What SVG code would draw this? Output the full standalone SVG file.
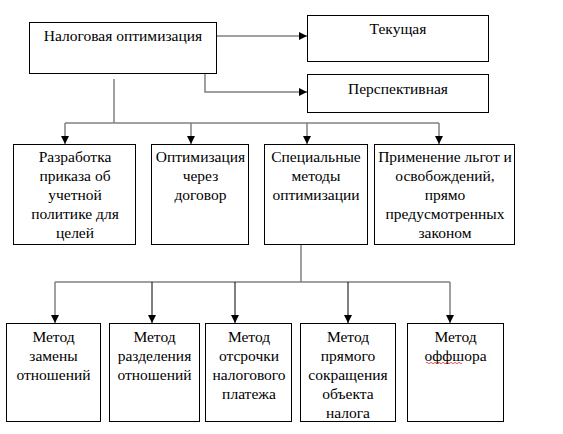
<svg xmlns="http://www.w3.org/2000/svg" width="563" height="434" viewBox="0 0 563 434">
<defs>
<marker id="ah" viewBox="0 0 10 10" refX="10" refY="5" markerWidth="8" markerHeight="8" markerUnits="userSpaceOnUse" orient="auto">
<path d="M0,0 L10,5 L0,10 z" fill="#000"/>
</marker>
<style>
.box{fill:#fff;stroke:#000;stroke-width:1}
.g{fill:none;stroke:#808080;stroke-width:1.5}
.k{fill:none;stroke:#000;stroke-width:1}
text{font-family:'Liberation Serif',serif;font-size:15.5px;fill:#000;text-anchor:middle}
</style>
</defs>
<rect width="563" height="434" fill="#fff"/>
<g id="connectors">
<path class="g" d="M217,36 H307" marker-end="url(#ah)"/>
<path class="g" d="M205,74 V92 H307" marker-end="url(#ah)"/>
<path class="g" d="M114,79 V123"/>
<path class="g" d="M65,123 H439"/>
<path class="g" d="M65,123 V144" marker-end="url(#ah)"/>
<path class="g" d="M191,123 V144" marker-end="url(#ah)"/>
<path class="g" d="M307,123 V144" marker-end="url(#ah)"/>
<path class="g" d="M439,123 V144" marker-end="url(#ah)"/>
<path class="g" d="M301,244 V282"/>
<path class="g" d="M55,282 H450"/>
<path class="g" d="M55,282 V323" marker-end="url(#ah)"/>
<path class="k" d="M152,282 V323" marker-end="url(#ah)"/>
<path class="k" d="M235,282 V323" marker-end="url(#ah)"/>
<path class="k" d="M348,282 V323" marker-end="url(#ah)"/>
<path class="g" d="M450,282 V323" marker-end="url(#ah)"/>
</g>
<g id="n-main"><rect class="box" x="29.5" y="22.5" width="187" height="51"/><text font-family="Liberation Serif" x="123" y="41">Налоговая оптимизация</text></g>
<g id="n-cur"><rect class="box" x="307.5" y="15.5" width="181" height="46"/><text font-family="Liberation Serif" x="398" y="34">Текущая</text></g>
<g id="n-persp"><rect class="box" x="307.5" y="74.5" width="181" height="38"/><text font-family="Liberation Serif" x="398" y="94">Перспективная</text></g>
<g id="n-order"><rect class="box" x="13.5" y="144.5" width="122" height="100"/><text font-family="Liberation Serif" x="75" y="162">Разработка<tspan x="75" dy="19">приказа об</tspan><tspan x="75" dy="19">учетной</tspan><tspan x="75" dy="19">политике для</tspan><tspan x="75" dy="19">целей</tspan></text></g>
<g id="n-contract"><rect class="box" x="151.5" y="144.5" width="97" height="100"/><text font-family="Liberation Serif" x="200.5" y="162">Оптимизация<tspan x="200.5" dy="19">через</tspan><tspan x="200.5" dy="19">договор</tspan></text></g>
<g id="n-special"><rect class="box" x="264.5" y="144.5" width="103" height="100"/><text font-family="Liberation Serif" x="316" y="162">Специальные<tspan x="316" dy="19">методы</tspan><tspan x="316" dy="19">оптимизации</tspan></text></g>
<g id="n-benefits"><rect class="box" x="374.5" y="144.5" width="140" height="100"/><text font-family="Liberation Serif" x="445" y="162">Применение льгот и<tspan x="445" dy="19">освобождений,</tspan><tspan x="445" dy="19">прямо</tspan><tspan x="445" dy="19">предусмотренных</tspan><tspan x="445" dy="19">законом</tspan></text></g>
<g id="n-m1"><rect class="box" x="6.5" y="323.5" width="94" height="98"/><text font-family="Liberation Serif" x="53.5" y="341.5">Метод<tspan x="53.5" dy="19">замены</tspan><tspan x="53.5" dy="19">отношений</tspan></text></g>
<g id="n-m2"><rect class="box" x="109.5" y="323.5" width="90" height="98"/><text font-family="Liberation Serif" x="154.5" y="341.5">Метод<tspan x="154.5" dy="19">разделения</tspan><tspan x="154.5" dy="19">отношений</tspan></text></g>
<g id="n-m3"><rect class="box" x="205.5" y="323.5" width="86" height="98"/><text font-family="Liberation Serif" x="249" y="341.5">Метод<tspan x="249" dy="19">отсрочки</tspan><tspan x="249" dy="19">налогового</tspan><tspan x="249" dy="19">платежа</tspan></text></g>
<g id="n-m4"><rect class="box" x="300.5" y="323.5" width="95" height="98"/><text font-family="Liberation Serif" x="348" y="341.5">Метод<tspan x="348" dy="19">прямого</tspan><tspan x="348" dy="19">сокращения</tspan><tspan x="348" dy="19">объекта</tspan><tspan x="348" dy="19">налога</tspan></text></g>
<g id="n-m5"><rect class="box" x="407.5" y="323.5" width="96" height="98"/><text font-family="Liberation Serif" x="455.5" y="341.5">Метод<tspan x="455.5" dy="19">оффшора</tspan></text>
<path d="M426,363 q1,-1.5 2,0 t2,0 t2,0 t2,0 t2,0 t2,0 t2,0 t2,0 t2,0 t2,0 t2,0 t2,0 t2,0 t2,0 t2,0 t2,0 t2,0 t2,0" fill="none" stroke="#e03030" stroke-width="0.8"/></g>
</svg>
